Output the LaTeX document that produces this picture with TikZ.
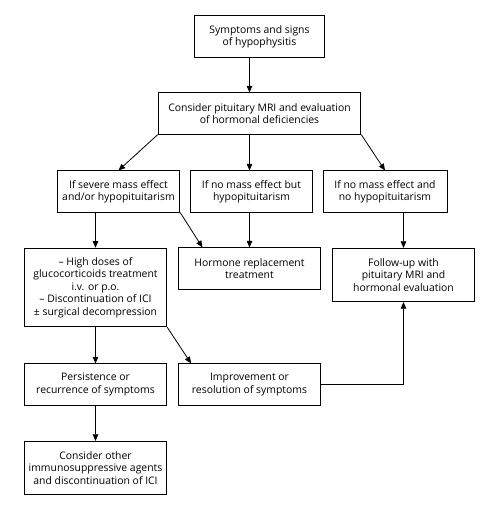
\documentclass[tikz,border=0pt]{standalone}
\usepackage{fontspec}
\setmainfont{Open Sans}
\usetikzlibrary{arrows.meta}

\begin{document}
\begin{tikzpicture}[
            x = 0.75pt, y = -0.75pt, % pixel grid of the reference
            > = {Triangle[length=5pt, width=4.2pt]}, % arrow head style
            semithick % line style
        ]

        \tikzset{
            box/.style = {
                draw = black,
                semithick,
                fill = white,
                align = center,
                inner sep = 0pt,
                font = \fontsize{7.8}{9.3}\selectfont
            }
        }

        \useasboundingbox (0,0) rectangle (499,512);

	\node[box, minimum width=98pt, minimum height=31pt] (1) at (259.5,36.5) {Symptoms and signs\\ of hypophysitis};
	\node[box, minimum width=152pt, minimum height=31pt] (2) at (259.5,113.5) {Consider pituitary MRI and evaluation\\of hormonal deficiencies};

	\node[box, minimum width=92pt, minimum height=31pt] (3) at (118.5,191.5) {If severe mass effect\\and/or hypopituitarism};
	\node[box, minimum width=92pt, minimum height=31pt] (4) at (251.5,191.5) {If no mass effect but\\hypopituitarism};
	\node[box, minimum width=93pt, minimum height=31pt] (5) at (385,191.5) {If no mass effect and\\no hypopituitarism};

	\node[box, minimum width=107pt, minimum height=59pt] (6) at (95.5,287.5) {– High doses of\\glucocorticoids treatment\\i.v. or p.o.\\– Discontinuation of ICI\\± surgical decompression};
	\node[box, minimum width=107pt, minimum height=31pt] (7) at (249.5,268.5) {Hormone replacement\\treatment};
	\node[box, minimum width=107pt, minimum height=40pt] (8) at (403.5,275) {Follow-up with\\pituitary MRI and\\hormonal evaluation};

	\node[box, minimum width=107pt, minimum height=31pt] (9) at (95.5,384.5) {Persistence or\\recurrence of symptoms};
	\node[box, minimum width=107pt, minimum height=31pt] (10) at (249.5,384.5) {Improvement or\\resolution of symptoms};

	\node[box, minimum width=107pt, minimum height=40pt] (11) at (95.5,468) {Consider other\\immunosuppressive agents\\and discontinuation of ICI};

        \path[->] (1.south -| 7) edge (2.north -| 7);
        \path[->] (2.south west) edge (3.north);
        \path[->] (2.south -| 7) edge (4.north -| 7);
        \path[->] (2.south east) edge (5.north);
        \path[->] (3.south -| 6) edge (6.north);
        \path[->] (3.south east) edge ([xshift=18.5pt]7.north west);
        \path[->] (4.south -| 7) edge (7.north);
        \path[->] (5.south -| 8) edge (8.north);
        \path[->] (6.south) edge (9.north);
        \path[->] (6.south east) edge ([xshift=10pt]10.north west);
        \draw[->] (10.east) -| (8.south);
        \path[->] (9.south) edge (11.north);

    \end{tikzpicture}
\end{document}
